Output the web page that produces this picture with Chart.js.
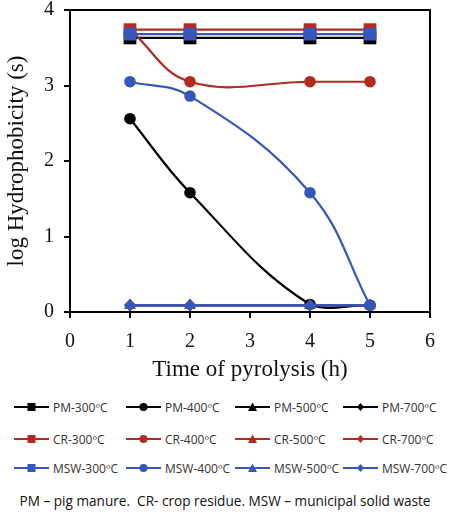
<!DOCTYPE html>
<html>
<head>
<meta charset="utf-8">
<script src="https://cdn.jsdelivr.net/npm/chart.js@4/dist/chart.umd.min.js"></script>
<style>
  body { margin: 0; background: #fff; width: 450px; height: 517px; position: relative; overflow: hidden; }
  .wrap { position: absolute; left: 0; top: 0; width: 450px; height: 385px; }
  .legend { position: absolute; left: 0; top: 0; width: 450px; }
  .item { position: absolute; display: flex; align-items: center; font-family: "Open Sans", sans-serif; font-size: 12px; color: #333; white-space: nowrap; }
  .item svg { margin-right: 4px; }
  .note { position: absolute; left: 0; width: 450px; top: 491px; text-align: center; font-family: "Open Sans", sans-serif; font-size: 13.6px; color: #111; }
</style>
</head>
<body>
<div class="wrap"><canvas id="hydro"></canvas></div>
<div class="legend" id="legend"></div>
<div class="note">PM – pig manure.&nbsp; CR- crop residue. MSW – municipal solid waste</div>
<script>
// pyrolysis time (h)
const hours = [1, 2, 4, 5];
const xTicks = [0, 1, 2, 3, 4, 5, 6];
const yTicks = [0, 1, 2, 3, 4];

// log hydrophobicity (s)
const pm300 = [3.63, 3.63, 3.63, 3.63];
const pm400 = [2.56, 1.58, 0.10, 0.09];
const pm500 = [0.09, 0.09, 0.09, 0.09];
const pm700 = [0.09, 0.09, 0.09, 0.09];
const cr300 = [3.74, 3.74, 3.74, 3.74];
const cr400 = [3.74, 3.05, 3.05, 3.05];
const cr500 = [0.09, 0.09, 0.09, 0.09];
const cr700 = [0.09, 0.09, 0.09, 0.09];
const msw300 = [3.68, 3.68, 3.68, 3.68];
const msw400 = [3.05, 2.86, 1.58, 0.09];
const msw500 = [0.09, 0.09, 0.09, 0.09];
const msw700 = [0.09, 0.09, 0.09, 0.09];

const BLACK = '#000000';
const RED = '#b52a1f';
const BLUE = '#3557b7';

const pointFor = {
    rect: 9,
    circle: 5.8,
    triangle: 6.5,
    rectRot: 6
};

function series(label, values, color, style) {
    return {
        label: label,
        data: values.map((v, i) => ({ x: hours[i], y: v })),
        borderColor: color,
        backgroundColor: color,
        borderWidth: 2.2,
        pointStyle: style,
        pointRadius: pointFor[style],
        pointBorderWidth: 0,
        tension: 0.4,
        clip: false
    };
}

const datasets = [
    series('PM-300ºC', pm300, BLACK, 'rect'),
    series('PM-400ºC', pm400, BLACK, 'circle'),
    series('PM-500ºC', pm500, BLACK, 'triangle'),
    series('PM-700ºC', pm700, BLACK, 'rectRot'),
    series('CR-300ºC', cr300, RED, 'rect'),
    series('CR-400ºC', cr400, RED, 'circle'),
    series('CR-500ºC', cr500, RED, 'triangle'),
    series('CR-700ºC', cr700, RED, 'rectRot'),
    series('MSW-300ºC', msw300, BLUE, 'rect'),
    series('MSW-400ºC', msw400, BLUE, 'circle'),
    series('MSW-500ºC', msw500, BLUE, 'triangle'),
    series('MSW-700ºC', msw700, BLUE, 'rectRot')
];
// later series sit on top, as in the spreadsheet
datasets.forEach((d, i) => { d.order = datasets.length - i; });

// box round the plot area
const frame = {
    id: 'frame',
    afterDraw(chart) {
        const { ctx, chartArea: a } = chart;
        ctx.save();
        ctx.strokeStyle = '#000';
        ctx.lineWidth = 2;
        ctx.strokeRect(a.left, a.top, a.right - a.left, a.bottom - a.top);
        ctx.restore();
    }
};

const serif = '"Liberation Serif", "Times New Roman", serif';

const chart = new Chart(document.getElementById('hydro'), {
    type: 'line',
    data: { datasets: datasets },
    options: {
        responsive: true,
        maintainAspectRatio: false,
        animation: false,
        layout: { padding: { top: 0, right: 20, left: 0, bottom: 0 } },
        plugins: { legend: { display: false }, tooltip: { enabled: false } },
        scales: {
            x: {
                type: 'linear',
                min: xTicks[0],
                max: xTicks[xTicks.length - 1],
                afterBuildTicks: s => { s.ticks = xTicks.map(v => ({ value: v })); },
                afterFit: s => { s.height = 73; s.paddingLeft = 0; s.paddingRight = 0; },
                border: { display: true, color: '#000', width: 2 },
                grid: { drawOnChartArea: false, drawTicks: true, tickLength: 6, color: '#000', lineWidth: 2 },
                ticks: { color: '#111', padding: 12, font: { family: serif, size: 20 } },
                title: {
                    display: true,
                    text: 'Time of pyrolysis (h)',
                    color: '#111',
                    font: { family: serif, size: 23 },
                    padding: { top: 0, bottom: 1 }
                }
            },
            y: {
                min: yTicks[0],
                max: yTicks[yTicks.length - 1],
                afterBuildTicks: s => { s.ticks = yTicks.map(v => ({ value: v })); },
                afterFit: s => { s.width = 70; s.paddingTop = 10; s.paddingBottom = 0; },
                border: { display: true, color: '#000', width: 2 },
                grid: { drawOnChartArea: false, drawTicks: true, tickLength: 6, color: '#000', lineWidth: 2 },
                ticks: { color: '#111', padding: 10, font: { family: serif, size: 20 } },
                title: {
                    display: true,
                    text: 'log Hydrophobicity (s)',
                    color: '#111',
                    font: { family: serif, size: 23 },
                    padding: { top: 3, bottom: 0 }
                }
            }
        }
    },
    plugins: [frame]
});

// legend in a 4 x 3 grid under the chart
const colLeft = [14, 126, 235, 343];
const rowMid = [407, 439, 468];
const legend = document.getElementById('legend');
const SVGNS = 'http://www.w3.org/2000/svg';

function marker(style, color) {
    let el;
    if (style === 'rect') {
        el = document.createElementNS(SVGNS, 'rect');
        el.setAttribute('x', 13.5); el.setAttribute('y', 2); el.setAttribute('width', 8); el.setAttribute('height', 8);
    } else if (style === 'circle') {
        el = document.createElementNS(SVGNS, 'circle');
        el.setAttribute('cx', 17.5); el.setAttribute('cy', 6); el.setAttribute('r', 4);
    } else if (style === 'triangle') {
        el = document.createElementNS(SVGNS, 'polygon');
        el.setAttribute('points', '17.5,1.5 22,10 13,10');
    } else {
        el = document.createElementNS(SVGNS, 'polygon');
        el.setAttribute('points', '17.5,2 21,6 17.5,10 14,6');
    }
    el.setAttribute('fill', color);
    return el;
}

chart.data.datasets.forEach((d, i) => {
    const item = document.createElement('div');
    item.className = 'item';
    item.style.left = colLeft[i % 4] + 'px';
    item.style.top = (rowMid[Math.floor(i / 4)] - 8) + 'px';
    item.style.height = '16px';
    const svg = document.createElementNS(SVGNS, 'svg');
    svg.setAttribute('width', 35);
    svg.setAttribute('height', 12);
    const line = document.createElementNS(SVGNS, 'line');
    line.setAttribute('x1', 0); line.setAttribute('x2', 35);
    line.setAttribute('y1', 6); line.setAttribute('y2', 6);
    line.setAttribute('stroke', d.borderColor);
    line.setAttribute('stroke-width', 2);
    svg.appendChild(line);
    svg.appendChild(marker(d.pointStyle, d.borderColor));
    item.appendChild(svg);
    const span = document.createElement('span');
    span.textContent = d.label;
    item.appendChild(span);
    legend.appendChild(item);
});
</script>
</body>
</html>
